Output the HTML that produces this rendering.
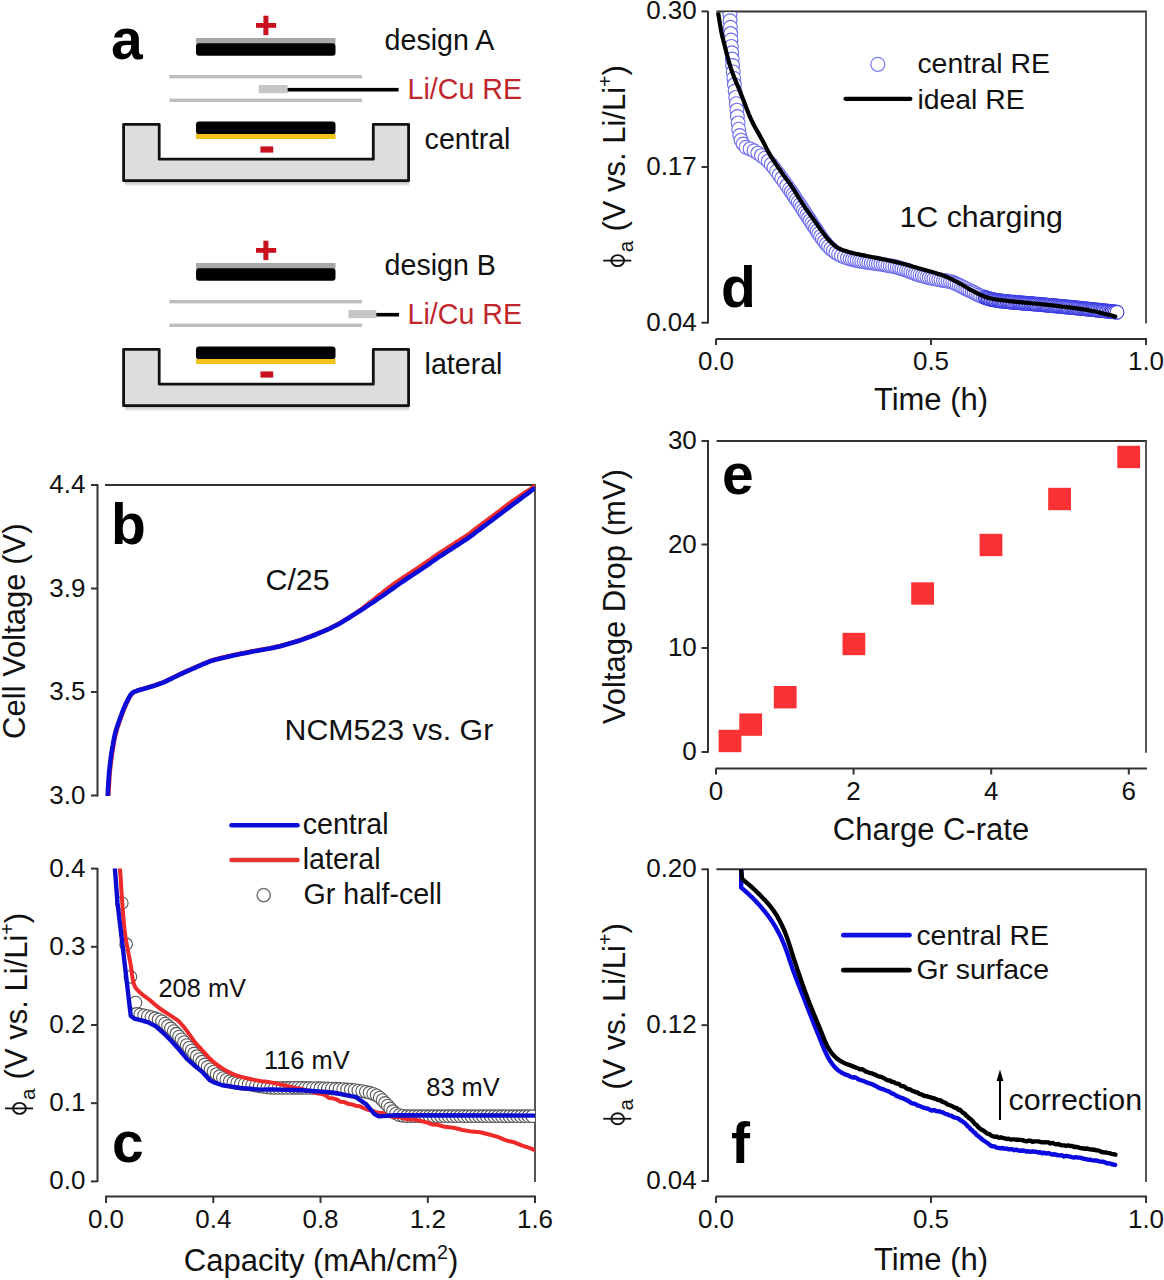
<!DOCTYPE html>
<html><head><meta charset="utf-8"><style>
html,body{margin:0;padding:0;background:#fff;}
svg{display:block;}
text{font-family:"Liberation Sans",sans-serif;}
</style></head><body>
<svg width="1164" height="1280" viewBox="0 0 1164 1280" font-family="Liberation Sans, sans-serif">
<rect width="1164" height="1280" fill="#fff"/>
<defs><linearGradient id="shad" x1="0" y1="0" x2="0" y2="1"><stop offset="0" stop-color="#b8b8b8"/><stop offset="1" stop-color="#ffffff"/></linearGradient></defs>
<text x="111" y="59" font-size="57" text-anchor="start" font-weight="bold" fill="#000" >a</text>
<rect x="256" y="23" width="20.2" height="4.8" fill="#c8101e"/>
<rect x="263.4" y="15.7" width="5" height="19.4" fill="#c8101e"/>
<rect x="196" y="38" width="139.5" height="6" fill="#a8a8a8"/>
<rect x="196" y="43.3" width="139.5" height="12.4" rx="3" fill="#000"/>
<rect x="169.5" y="75" width="192.5" height="3.4" fill="#bdbdbd"/>
<rect x="169.5" y="98.6" width="192.5" height="3.4" fill="#bdbdbd"/>
<rect x="258.8" y="85" width="28.80000000000001" height="8.2" fill="#c6c6c6"/>
<rect x="287.6" y="87.9" width="111.0" height="3.6" fill="#000"/>
<rect x="125" y="181.5" width="284" height="5" fill="url(#shad)"/>
<path d="M123.6,124.3 H159.2 V159.2 H373.3 V124.3 H408.6 V180.7 H123.6 Z" fill="#dddddd" stroke="#111" stroke-width="2.8" stroke-linejoin="round"/>
<rect x="196" y="121.6" width="139.5" height="12.6" rx="3" fill="#000"/>
<rect x="196" y="134" width="139.5" height="5" fill="#f2c21a"/>
<rect x="260.4" y="146.4" width="12.8" height="6.2" fill="#c8101e"/>
<text x="384.6" y="49.5" font-size="28.6" text-anchor="start" font-weight="normal" fill="#111" >design A</text>
<text x="407.6" y="99.4" font-size="28.6" text-anchor="start" font-weight="normal" fill="#c0272d" >Li/Cu RE</text>
<text x="424.6" y="148.5" font-size="28.6" text-anchor="start" font-weight="normal" fill="#111" >central</text>
<rect x="256" y="248" width="20.2" height="4.8" fill="#c8101e"/>
<rect x="263.4" y="240.7" width="5" height="19.4" fill="#c8101e"/>
<rect x="196" y="263" width="139.5" height="6" fill="#a8a8a8"/>
<rect x="196" y="268.3" width="139.5" height="12.4" rx="3" fill="#000"/>
<rect x="169.5" y="300" width="192.5" height="3.4" fill="#bdbdbd"/>
<rect x="169.5" y="323.6" width="192.5" height="3.4" fill="#bdbdbd"/>
<rect x="348.5" y="310" width="27.80000000000001" height="8.2" fill="#c6c6c6"/>
<rect x="376.3" y="312.9" width="22.69999999999999" height="3.6" fill="#000"/>
<rect x="125" y="406.5" width="284" height="5" fill="url(#shad)"/>
<path d="M123.6,349.3 H159.2 V384.2 H373.3 V349.3 H408.6 V405.7 H123.6 Z" fill="#dddddd" stroke="#111" stroke-width="2.8" stroke-linejoin="round"/>
<rect x="196" y="346.6" width="139.5" height="12.6" rx="3" fill="#000"/>
<rect x="196" y="359" width="139.5" height="5" fill="#f2c21a"/>
<rect x="260.4" y="371.4" width="12.8" height="6.2" fill="#c8101e"/>
<text x="384.6" y="274.5" font-size="28.6" text-anchor="start" font-weight="normal" fill="#111" >design B</text>
<text x="407.6" y="324" font-size="28.6" text-anchor="start" font-weight="normal" fill="#c0272d" >Li/Cu RE</text>
<text x="424.6" y="373.5" font-size="28.6" text-anchor="start" font-weight="normal" fill="#111" >lateral</text>
<line x1="97.5" y1="484" x2="97.5" y2="796.5" stroke="#333" stroke-width="2" />
<line x1="91" y1="485" x2="97.5" y2="485" stroke="#333" stroke-width="2" />
<text x="85.5" y="493" font-size="26" text-anchor="end" font-weight="normal" fill="#111" >4.4</text>
<line x1="91" y1="588.5" x2="97.5" y2="588.5" stroke="#333" stroke-width="2" />
<text x="85.5" y="596.5" font-size="26" text-anchor="end" font-weight="normal" fill="#111" >3.9</text>
<line x1="91" y1="692" x2="97.5" y2="692" stroke="#333" stroke-width="2" />
<text x="85.5" y="700" font-size="26" text-anchor="end" font-weight="normal" fill="#111" >3.5</text>
<line x1="91" y1="795.5" x2="97.5" y2="795.5" stroke="#333" stroke-width="2" />
<text x="85.5" y="803.5" font-size="26" text-anchor="end" font-weight="normal" fill="#111" >3.0</text>
<line x1="105" y1="485" x2="536" y2="485" stroke="#333" stroke-width="2" />
<line x1="535" y1="484" x2="535" y2="1182" stroke="#555" stroke-width="2" />
<text x="25" y="631.2" font-size="31" text-anchor="middle" font-weight="normal" fill="#111" transform="rotate(-90 25 631.2)">Cell Voltage (V)</text>
<text x="111" y="544" font-size="57" text-anchor="start" font-weight="bold" fill="#000" >b</text>
<text x="265.5" y="589.7" font-size="30.3" text-anchor="start" font-weight="normal" fill="#111" >C/25</text>
<text x="284.5" y="740" font-size="30.3" text-anchor="start" font-weight="normal" fill="#111" >NCM523 vs. Gr</text>
<clipPath id="clipb"><rect x="98" y="484" width="437" height="312"/></clipPath><g clip-path="url(#clipb)">
<polyline points="108.4,794.7 108.6,792.1 108.7,788.5 109.0,784.2 109.3,779.7 109.6,775.2 109.9,771.2 110.3,767.6 110.7,764.1 111.1,760.7 111.5,757.4 112.0,754.1 112.5,750.9 113.0,747.7 113.6,744.5 114.1,741.4 114.7,738.3 115.3,735.4 116.0,732.6 116.7,730.0 117.4,727.6 118.2,725.2 119.0,723.0 119.8,720.7 120.6,718.4 121.5,716.0 122.4,713.5 123.3,711.0 124.3,708.6 125.3,706.3 126.2,704.2 127.1,702.2 128.1,700.3 129.0,698.5 129.9,696.8 130.8,695.3 131.7,694.1 132.5,693.2 133.1,692.5 133.8,692.1 134.4,691.8 135.3,691.4 136.3,691.0 137.6,690.5 139.1,690.0 140.7,689.5 142.4,689.0 144.1,688.5 145.8,688.0 147.4,687.5 149.1,687.0 150.8,686.5 152.5,686.0 154.2,685.5 155.9,684.9 157.5,684.3 159.1,683.7 160.7,683.1 162.4,682.5 164.2,681.8 166.1,680.9 168.2,679.9 170.4,678.9 172.7,677.7 175.2,676.5 177.8,675.2 180.6,673.9 183.8,672.4 187.3,670.8 191.0,669.2 194.7,667.5 198.2,666.0 201.2,664.7 203.7,663.6 205.7,662.8 207.5,662.0 209.3,661.3 211.3,660.6 213.6,659.9 216.3,659.1 219.3,658.4 222.4,657.6 225.6,656.9 228.9,656.1 232.2,655.4 235.5,654.7 238.9,654.0 242.4,653.3 245.9,652.6 249.3,651.9 252.8,651.2 256.2,650.6 259.7,650.0 263.1,649.4 266.5,648.8 270.0,648.2 273.4,647.5 276.8,646.7 280.3,645.9 283.7,645.0 287.1,644.0 290.6,643.0 294.0,642.0 297.4,640.9 300.9,639.8 304.3,638.6 307.7,637.3 311.2,636.0 314.6,634.7 318.0,633.3 321.5,631.9 325.0,630.4 328.4,628.9 331.9,627.2 335.3,625.5 338.8,623.6 342.2,621.7 345.7,619.6 349.2,617.5 352.6,615.3 355.9,613.1 359.2,610.8 362.4,608.4 365.6,606.0 368.7,603.5 371.8,601.2 374.6,598.9 377.3,596.8 379.9,594.8 382.3,592.9 384.6,591.0 387.0,589.2 389.5,587.3 392.0,585.4 394.6,583.6 397.2,581.8 399.8,580.0 402.4,578.2 405.0,576.5 407.6,574.8 410.2,573.1 412.8,571.4 415.3,569.8 417.9,568.1 420.5,566.4 423.1,564.6 425.6,562.8 428.2,561.0 430.8,559.2 433.3,557.4 435.9,555.6 438.5,553.9 441.1,552.2 443.7,550.5 446.2,548.8 448.8,547.2 451.4,545.5 454.0,543.8 456.5,542.2 459.1,540.6 461.7,538.9 464.2,537.3 466.8,535.5 469.4,533.7 472.0,531.8 474.5,529.8 477.1,527.8 479.7,525.9 482.3,523.9 484.9,522.0 487.5,520.0 490.1,518.1 492.6,516.2 495.2,514.2 497.8,512.3 500.3,510.4 502.7,508.5 505.1,506.7 507.6,504.8 510.3,502.8 513.2,500.7 516.7,498.3 520.7,495.6 524.8,492.9 528.8,490.3 532.1,488.1 534.5,486.5" fill="none" stroke="#ee2a2a" stroke-width="4.4" stroke-linejoin="round" stroke-linecap="round" />
<polyline points="107.7,795.0 107.9,792.4 108.0,788.8 108.3,784.5 108.6,780.0 108.9,775.5 109.2,771.5 109.6,767.9 110.0,764.4 110.4,761.0 110.8,757.7 111.3,754.4 111.8,751.2 112.3,748.0 112.9,744.8 113.4,741.7 114.0,738.6 114.6,735.7 115.3,732.9 116.0,730.3 116.7,727.9 117.5,725.5 118.3,723.3 119.1,721.0 119.9,718.7 120.8,716.3 121.7,713.8 122.6,711.3 123.6,708.9 124.6,706.6 125.5,704.5 126.4,702.5 127.4,700.6 128.3,698.8 129.2,697.1 130.1,695.6 131.0,694.4 131.8,693.5 132.4,692.8 133.0,692.4 133.7,692.1 134.5,691.7 135.6,691.3 137.0,690.8 138.6,690.3 140.4,689.8 142.2,689.3 144.0,688.8 145.8,688.3 147.5,687.8 149.2,687.3 150.8,686.8 152.5,686.3 154.2,685.8 155.9,685.2 157.5,684.6 159.1,684.0 160.7,683.4 162.4,682.8 164.2,682.1 166.1,681.2 168.2,680.2 170.4,679.2 172.7,678.0 175.2,676.8 177.8,675.5 180.6,674.2 183.8,672.7 187.3,671.1 191.0,669.5 194.7,667.8 198.2,666.3 201.2,665.0 203.7,663.9 205.7,663.1 207.5,662.3 209.3,661.6 211.3,660.9 213.6,660.2 216.3,659.4 219.3,658.7 222.4,657.9 225.6,657.2 228.9,656.4 232.2,655.7 235.5,655.0 238.9,654.3 242.4,653.6 245.9,652.9 249.3,652.2 252.8,651.5 256.2,650.9 259.7,650.3 263.1,649.7 266.5,649.1 270.0,648.5 273.4,647.8 276.8,647.0 280.3,646.2 283.7,645.3 287.1,644.3 290.6,643.3 294.0,642.3 297.4,641.2 300.9,640.1 304.3,638.9 307.7,637.6 311.2,636.3 314.6,635.0 318.0,633.6 321.5,632.2 325.0,630.7 328.4,629.2 331.9,627.5 335.3,625.8 338.8,623.9 342.2,621.9 345.7,619.8 349.1,617.7 352.5,615.5 355.9,613.4 359.3,611.3 362.7,609.1 366.0,606.9 369.3,604.7 372.5,602.6 375.5,600.6 378.3,598.7 380.9,596.9 383.5,595.1 385.9,593.3 388.4,591.6 390.9,589.8 393.5,588.0 396.1,586.2 398.6,584.4 401.2,582.5 403.8,580.8 406.4,579.0 409.0,577.3 411.6,575.6 414.2,573.9 416.7,572.3 419.3,570.6 421.9,568.9 424.5,567.1 427.0,565.3 429.6,563.5 432.2,561.7 434.7,559.9 437.3,558.1 439.9,556.4 442.5,554.7 445.1,553.0 447.6,551.3 450.2,549.7 452.8,548.0 455.4,546.3 457.9,544.7 460.5,543.1 463.1,541.4 465.6,539.8 468.2,538.0 470.8,536.2 473.4,534.3 475.9,532.3 478.5,530.3 481.1,528.4 483.7,526.4 486.3,524.5 488.9,522.5 491.5,520.6 494.0,518.7 496.6,516.7 499.2,514.8 501.7,512.9 504.2,511.0 506.7,509.2 509.2,507.3 511.8,505.3 514.6,503.2 517.8,500.8 521.3,498.1 525.0,495.4 528.5,492.8 531.4,490.6 533.5,489.0" fill="none" stroke="#0c0cd8" stroke-width="4.6" stroke-linejoin="round" stroke-linecap="round" />
</g>
<line x1="97.5" y1="868" x2="97.5" y2="1182" stroke="#333" stroke-width="2" />
<line x1="91" y1="868.6" x2="97.5" y2="868.6" stroke="#333" stroke-width="2" />
<text x="85.5" y="876.6" font-size="26" text-anchor="end" font-weight="normal" fill="#111" >0.4</text>
<line x1="91" y1="946.8" x2="97.5" y2="946.8" stroke="#333" stroke-width="2" />
<text x="85.5" y="954.8" font-size="26" text-anchor="end" font-weight="normal" fill="#111" >0.3</text>
<line x1="91" y1="1025" x2="97.5" y2="1025" stroke="#333" stroke-width="2" />
<text x="85.5" y="1033" font-size="26" text-anchor="end" font-weight="normal" fill="#111" >0.2</text>
<line x1="91" y1="1103.2" x2="97.5" y2="1103.2" stroke="#333" stroke-width="2" />
<text x="85.5" y="1111.2" font-size="26" text-anchor="end" font-weight="normal" fill="#111" >0.1</text>
<line x1="91" y1="1181.4" x2="97.5" y2="1181.4" stroke="#333" stroke-width="2" />
<text x="85.5" y="1189.4" font-size="26" text-anchor="end" font-weight="normal" fill="#111" >0.0</text>
<line x1="105" y1="1196.4" x2="536" y2="1196.4" stroke="#333" stroke-width="2" />
<line x1="106" y1="1196.4" x2="106" y2="1203" stroke="#333" stroke-width="2" />
<text x="106" y="1227.9" font-size="26" text-anchor="middle" font-weight="normal" fill="#111" >0.0</text>
<line x1="213.3" y1="1196.4" x2="213.3" y2="1203" stroke="#333" stroke-width="2" />
<text x="213.3" y="1227.9" font-size="26" text-anchor="middle" font-weight="normal" fill="#111" >0.4</text>
<line x1="320.5" y1="1196.4" x2="320.5" y2="1203" stroke="#333" stroke-width="2" />
<text x="320.5" y="1227.9" font-size="26" text-anchor="middle" font-weight="normal" fill="#111" >0.8</text>
<line x1="427.8" y1="1196.4" x2="427.8" y2="1203" stroke="#333" stroke-width="2" />
<text x="427.8" y="1227.9" font-size="26" text-anchor="middle" font-weight="normal" fill="#111" >1.2</text>
<line x1="535" y1="1196.4" x2="535" y2="1203" stroke="#333" stroke-width="2" />
<text x="535" y="1227.9" font-size="26" text-anchor="middle" font-weight="normal" fill="#111" >1.6</text>
<text x="321" y="1270.5" font-size="31" text-anchor="middle" font-weight="normal" fill="#111" >Capacity (mAh/cm<tspan font-size="19.5" dy="-11.6">2</tspan><tspan dy="11.6">)</tspan></text>
<text x="112" y="1162" font-size="57" text-anchor="start" font-weight="bold" fill="#000" >c</text>
<line x1="231.5" y1="825.3" x2="297.5" y2="825.3" stroke="#0c0cdc" stroke-width="4.6" stroke-linecap="round"/>
<line x1="231.5" y1="860" x2="297.5" y2="860" stroke="#e83434" stroke-width="4.6" stroke-linecap="round"/>
<circle cx="263.7" cy="895.2" r="6.6" fill="none" stroke="#777" stroke-width="1.5"/>
<text x="302.7" y="834.2" font-size="28.6" text-anchor="start" font-weight="normal" fill="#111" >central</text>
<text x="302.7" y="869.3" font-size="28.6" text-anchor="start" font-weight="normal" fill="#111" >lateral</text>
<text x="303.6" y="904" font-size="28.6" text-anchor="start" font-weight="normal" fill="#111" >Gr half-cell</text>
<text x="158.5" y="996.6" font-size="25.4" text-anchor="start" font-weight="normal" fill="#111" >208 mV</text>
<text x="264" y="1068.7" font-size="25.4" text-anchor="start" font-weight="normal" fill="#111" >116 mV</text>
<text x="426.3" y="1095.8" font-size="25.4" text-anchor="start" font-weight="normal" fill="#111" >83 mV</text>
<clipPath id="clipc2"><rect x="98" y="868.6" width="437" height="313"/></clipPath>
<clipPath id="clipc"><rect x="98" y="860" width="437" height="330"/></clipPath><g clip-path="url(#clipc)">
<circle cx="121.8" cy="903.0" r="6.3" fill="#fff" stroke="#555" stroke-width="1.1"/>
<circle cx="126.1" cy="944.2" r="6.3" fill="#fff" stroke="#555" stroke-width="1.1"/>
<circle cx="130.4" cy="976.8" r="6.3" fill="#fff" stroke="#555" stroke-width="1.1"/>
<circle cx="135.5" cy="1002.6" r="6.3" fill="#fff" stroke="#555" stroke-width="1.1"/>
<circle cx="136.6" cy="1013.9" r="6.3" fill="#fff" stroke="#555" stroke-width="1.1"/>
<circle cx="140.3" cy="1014.6" r="6.3" fill="#fff" stroke="#555" stroke-width="1.1"/>
<circle cx="144.1" cy="1015.3" r="6.3" fill="#fff" stroke="#555" stroke-width="1.1"/>
<circle cx="147.8" cy="1016.1" r="6.3" fill="#fff" stroke="#555" stroke-width="1.1"/>
<circle cx="151.4" cy="1017.1" r="6.3" fill="#fff" stroke="#555" stroke-width="1.1"/>
<circle cx="155.1" cy="1018.2" r="6.3" fill="#fff" stroke="#555" stroke-width="1.1"/>
<circle cx="158.6" cy="1019.6" r="6.3" fill="#fff" stroke="#555" stroke-width="1.1"/>
<circle cx="162.0" cy="1021.3" r="6.3" fill="#fff" stroke="#555" stroke-width="1.1"/>
<circle cx="165.1" cy="1023.5" r="6.3" fill="#fff" stroke="#555" stroke-width="1.1"/>
<circle cx="168.0" cy="1025.9" r="6.3" fill="#fff" stroke="#555" stroke-width="1.1"/>
<circle cx="170.9" cy="1028.4" r="6.3" fill="#fff" stroke="#555" stroke-width="1.1"/>
<circle cx="173.7" cy="1031.0" r="6.3" fill="#fff" stroke="#555" stroke-width="1.1"/>
<circle cx="176.4" cy="1033.7" r="6.3" fill="#fff" stroke="#555" stroke-width="1.1"/>
<circle cx="179.0" cy="1036.5" r="6.3" fill="#fff" stroke="#555" stroke-width="1.1"/>
<circle cx="181.5" cy="1039.3" r="6.3" fill="#fff" stroke="#555" stroke-width="1.1"/>
<circle cx="184.0" cy="1042.1" r="6.3" fill="#fff" stroke="#555" stroke-width="1.1"/>
<circle cx="186.6" cy="1045.0" r="6.3" fill="#fff" stroke="#555" stroke-width="1.1"/>
<circle cx="189.1" cy="1047.8" r="6.3" fill="#fff" stroke="#555" stroke-width="1.1"/>
<circle cx="191.7" cy="1050.6" r="6.3" fill="#fff" stroke="#555" stroke-width="1.1"/>
<circle cx="194.2" cy="1053.4" r="6.3" fill="#fff" stroke="#555" stroke-width="1.1"/>
<circle cx="196.8" cy="1056.2" r="6.3" fill="#fff" stroke="#555" stroke-width="1.1"/>
<circle cx="199.4" cy="1059.0" r="6.3" fill="#fff" stroke="#555" stroke-width="1.1"/>
<circle cx="202.1" cy="1061.7" r="6.3" fill="#fff" stroke="#555" stroke-width="1.1"/>
<circle cx="204.8" cy="1064.4" r="6.3" fill="#fff" stroke="#555" stroke-width="1.1"/>
<circle cx="207.6" cy="1066.9" r="6.3" fill="#fff" stroke="#555" stroke-width="1.1"/>
<circle cx="210.5" cy="1069.3" r="6.3" fill="#fff" stroke="#555" stroke-width="1.1"/>
<circle cx="213.5" cy="1071.6" r="6.3" fill="#fff" stroke="#555" stroke-width="1.1"/>
<circle cx="216.5" cy="1074.0" r="6.3" fill="#fff" stroke="#555" stroke-width="1.1"/>
<circle cx="219.6" cy="1076.2" r="6.3" fill="#fff" stroke="#555" stroke-width="1.1"/>
<circle cx="222.9" cy="1078.1" r="6.3" fill="#fff" stroke="#555" stroke-width="1.1"/>
<circle cx="226.3" cy="1079.8" r="6.3" fill="#fff" stroke="#555" stroke-width="1.1"/>
<circle cx="229.8" cy="1081.2" r="6.3" fill="#fff" stroke="#555" stroke-width="1.1"/>
<circle cx="233.4" cy="1082.4" r="6.3" fill="#fff" stroke="#555" stroke-width="1.1"/>
<circle cx="237.1" cy="1083.1" r="6.3" fill="#fff" stroke="#555" stroke-width="1.1"/>
<circle cx="240.9" cy="1083.7" r="6.3" fill="#fff" stroke="#555" stroke-width="1.1"/>
<circle cx="244.7" cy="1084.1" r="6.3" fill="#fff" stroke="#555" stroke-width="1.1"/>
<circle cx="248.5" cy="1084.5" r="6.3" fill="#fff" stroke="#555" stroke-width="1.1"/>
<circle cx="252.2" cy="1085.0" r="6.3" fill="#fff" stroke="#555" stroke-width="1.1"/>
<circle cx="256.0" cy="1085.6" r="6.3" fill="#fff" stroke="#555" stroke-width="1.1"/>
<circle cx="259.7" cy="1086.3" r="6.3" fill="#fff" stroke="#555" stroke-width="1.1"/>
<circle cx="263.5" cy="1087.0" r="6.3" fill="#fff" stroke="#555" stroke-width="1.1"/>
<circle cx="267.2" cy="1087.5" r="6.3" fill="#fff" stroke="#555" stroke-width="1.1"/>
<circle cx="271.0" cy="1087.8" r="6.3" fill="#fff" stroke="#555" stroke-width="1.1"/>
<circle cx="274.8" cy="1087.9" r="6.3" fill="#fff" stroke="#555" stroke-width="1.1"/>
<circle cx="278.6" cy="1088.0" r="6.3" fill="#fff" stroke="#555" stroke-width="1.1"/>
<circle cx="282.4" cy="1087.9" r="6.3" fill="#fff" stroke="#555" stroke-width="1.1"/>
<circle cx="286.2" cy="1087.9" r="6.3" fill="#fff" stroke="#555" stroke-width="1.1"/>
<circle cx="290.0" cy="1087.9" r="6.3" fill="#fff" stroke="#555" stroke-width="1.1"/>
<circle cx="293.8" cy="1087.8" r="6.3" fill="#fff" stroke="#555" stroke-width="1.1"/>
<circle cx="297.6" cy="1087.8" r="6.3" fill="#fff" stroke="#555" stroke-width="1.1"/>
<circle cx="301.4" cy="1087.8" r="6.3" fill="#fff" stroke="#555" stroke-width="1.1"/>
<circle cx="305.2" cy="1087.9" r="6.3" fill="#fff" stroke="#555" stroke-width="1.1"/>
<circle cx="309.0" cy="1087.9" r="6.3" fill="#fff" stroke="#555" stroke-width="1.1"/>
<circle cx="312.8" cy="1088.0" r="6.3" fill="#fff" stroke="#555" stroke-width="1.1"/>
<circle cx="316.6" cy="1088.1" r="6.3" fill="#fff" stroke="#555" stroke-width="1.1"/>
<circle cx="320.4" cy="1088.2" r="6.3" fill="#fff" stroke="#555" stroke-width="1.1"/>
<circle cx="324.2" cy="1088.3" r="6.3" fill="#fff" stroke="#555" stroke-width="1.1"/>
<circle cx="328.0" cy="1088.4" r="6.3" fill="#fff" stroke="#555" stroke-width="1.1"/>
<circle cx="331.8" cy="1088.6" r="6.3" fill="#fff" stroke="#555" stroke-width="1.1"/>
<circle cx="335.6" cy="1088.7" r="6.3" fill="#fff" stroke="#555" stroke-width="1.1"/>
<circle cx="339.4" cy="1088.9" r="6.3" fill="#fff" stroke="#555" stroke-width="1.1"/>
<circle cx="343.2" cy="1089.1" r="6.3" fill="#fff" stroke="#555" stroke-width="1.1"/>
<circle cx="347.0" cy="1089.4" r="6.3" fill="#fff" stroke="#555" stroke-width="1.1"/>
<circle cx="350.8" cy="1089.7" r="6.3" fill="#fff" stroke="#555" stroke-width="1.1"/>
<circle cx="354.5" cy="1090.1" r="6.3" fill="#fff" stroke="#555" stroke-width="1.1"/>
<circle cx="358.3" cy="1090.5" r="6.3" fill="#fff" stroke="#555" stroke-width="1.1"/>
<circle cx="362.1" cy="1091.1" r="6.3" fill="#fff" stroke="#555" stroke-width="1.1"/>
<circle cx="365.8" cy="1091.8" r="6.3" fill="#fff" stroke="#555" stroke-width="1.1"/>
<circle cx="369.5" cy="1092.7" r="6.3" fill="#fff" stroke="#555" stroke-width="1.1"/>
<circle cx="373.1" cy="1093.8" r="6.3" fill="#fff" stroke="#555" stroke-width="1.1"/>
<circle cx="376.6" cy="1095.3" r="6.3" fill="#fff" stroke="#555" stroke-width="1.1"/>
<circle cx="379.7" cy="1097.5" r="6.3" fill="#fff" stroke="#555" stroke-width="1.1"/>
<circle cx="382.5" cy="1100.1" r="6.3" fill="#fff" stroke="#555" stroke-width="1.1"/>
<circle cx="385.1" cy="1102.9" r="6.3" fill="#fff" stroke="#555" stroke-width="1.1"/>
<circle cx="387.7" cy="1105.6" r="6.3" fill="#fff" stroke="#555" stroke-width="1.1"/>
<circle cx="390.2" cy="1108.4" r="6.3" fill="#fff" stroke="#555" stroke-width="1.1"/>
<circle cx="392.9" cy="1111.2" r="6.3" fill="#fff" stroke="#555" stroke-width="1.1"/>
<circle cx="395.9" cy="1113.5" r="6.3" fill="#fff" stroke="#555" stroke-width="1.1"/>
<circle cx="399.3" cy="1115.1" r="6.3" fill="#fff" stroke="#555" stroke-width="1.1"/>
<circle cx="403.0" cy="1115.8" r="6.3" fill="#fff" stroke="#555" stroke-width="1.1"/>
<circle cx="406.8" cy="1116.2" r="6.3" fill="#fff" stroke="#555" stroke-width="1.1"/>
<circle cx="410.6" cy="1116.2" r="6.3" fill="#fff" stroke="#555" stroke-width="1.1"/>
<circle cx="414.4" cy="1116.2" r="6.3" fill="#fff" stroke="#555" stroke-width="1.1"/>
<circle cx="418.2" cy="1116.2" r="6.3" fill="#fff" stroke="#555" stroke-width="1.1"/>
<circle cx="422.0" cy="1116.2" r="6.3" fill="#fff" stroke="#555" stroke-width="1.1"/>
<circle cx="425.8" cy="1116.2" r="6.3" fill="#fff" stroke="#555" stroke-width="1.1"/>
<circle cx="429.6" cy="1116.2" r="6.3" fill="#fff" stroke="#555" stroke-width="1.1"/>
<circle cx="433.4" cy="1116.2" r="6.3" fill="#fff" stroke="#555" stroke-width="1.1"/>
<circle cx="437.2" cy="1116.2" r="6.3" fill="#fff" stroke="#555" stroke-width="1.1"/>
<circle cx="441.0" cy="1116.2" r="6.3" fill="#fff" stroke="#555" stroke-width="1.1"/>
<circle cx="444.8" cy="1116.2" r="6.3" fill="#fff" stroke="#555" stroke-width="1.1"/>
<circle cx="448.6" cy="1116.2" r="6.3" fill="#fff" stroke="#555" stroke-width="1.1"/>
<circle cx="452.4" cy="1116.2" r="6.3" fill="#fff" stroke="#555" stroke-width="1.1"/>
<circle cx="456.2" cy="1116.2" r="6.3" fill="#fff" stroke="#555" stroke-width="1.1"/>
<circle cx="460.0" cy="1116.2" r="6.3" fill="#fff" stroke="#555" stroke-width="1.1"/>
<circle cx="463.8" cy="1116.2" r="6.3" fill="#fff" stroke="#555" stroke-width="1.1"/>
<circle cx="467.6" cy="1116.2" r="6.3" fill="#fff" stroke="#555" stroke-width="1.1"/>
<circle cx="471.4" cy="1116.2" r="6.3" fill="#fff" stroke="#555" stroke-width="1.1"/>
<circle cx="475.2" cy="1116.2" r="6.3" fill="#fff" stroke="#555" stroke-width="1.1"/>
<circle cx="479.0" cy="1116.2" r="6.3" fill="#fff" stroke="#555" stroke-width="1.1"/>
<circle cx="482.8" cy="1116.2" r="6.3" fill="#fff" stroke="#555" stroke-width="1.1"/>
<circle cx="486.6" cy="1116.2" r="6.3" fill="#fff" stroke="#555" stroke-width="1.1"/>
<circle cx="490.4" cy="1116.2" r="6.3" fill="#fff" stroke="#555" stroke-width="1.1"/>
<circle cx="494.2" cy="1116.2" r="6.3" fill="#fff" stroke="#555" stroke-width="1.1"/>
<circle cx="498.0" cy="1116.2" r="6.3" fill="#fff" stroke="#555" stroke-width="1.1"/>
<circle cx="501.8" cy="1116.2" r="6.3" fill="#fff" stroke="#555" stroke-width="1.1"/>
<circle cx="505.6" cy="1116.2" r="6.3" fill="#fff" stroke="#555" stroke-width="1.1"/>
<circle cx="509.4" cy="1116.2" r="6.3" fill="#fff" stroke="#555" stroke-width="1.1"/>
<circle cx="513.2" cy="1116.2" r="6.3" fill="#fff" stroke="#555" stroke-width="1.1"/>
<circle cx="517.0" cy="1116.2" r="6.3" fill="#fff" stroke="#555" stroke-width="1.1"/>
<circle cx="520.8" cy="1116.2" r="6.3" fill="#fff" stroke="#555" stroke-width="1.1"/>
<circle cx="524.6" cy="1116.2" r="6.3" fill="#fff" stroke="#555" stroke-width="1.1"/>
<circle cx="528.4" cy="1116.2" r="6.3" fill="#fff" stroke="#555" stroke-width="1.1"/>
<circle cx="532.2" cy="1116.2" r="6.3" fill="#fff" stroke="#555" stroke-width="1.1"/>
</g>
<g clip-path="url(#clipc2)">
<polyline points="120.0,868.6 120.8,880.0 121.8,896.5 123.1,914.1 124.4,928.7 125.8,939.4 127.5,948.3 129.0,956.0 130.4,963.0 131.4,969.4 132.1,975.0 132.8,979.7 133.8,983.7 135.0,986.7 136.4,988.8 138.0,990.5 139.8,992.3 142.0,994.3 144.5,996.2 147.1,998.0 149.7,1000.0 152.2,1002.1 154.6,1004.2 157.2,1006.4 159.8,1008.5 162.7,1010.5 165.8,1012.5 168.7,1014.4 171.4,1016.2 173.6,1017.6 175.5,1018.9 177.3,1020.1 179.1,1021.7 181.0,1023.7 183.0,1026.0 185.0,1028.4 186.9,1030.9 188.8,1033.6 190.8,1036.4 192.7,1039.2 194.6,1041.8 196.5,1044.1 198.4,1046.2 200.4,1048.2 202.3,1050.3 204.2,1052.5 206.2,1054.6 208.1,1056.8 210.1,1058.8 212.1,1060.7 214.2,1062.5 216.4,1064.2 218.6,1065.8 220.9,1067.4 223.2,1068.9 225.7,1070.4 228.3,1071.8 231.0,1073.1 233.7,1074.3 236.7,1075.5 240.3,1076.6 244.9,1077.8 250.2,1079.0 255.5,1080.1 260.0,1081.0 262.9,1081.4 264.7,1081.5 267.0,1081.7 270.9,1082.4 277.6,1083.8 286.1,1085.8 294.8,1087.7 301.9,1089.0 306.8,1090.6 310.6,1091.2 313.8,1092.4 317.3,1093.4 321.2,1093.8 325.1,1095.1 328.9,1097.9 332.8,1098.3 336.7,1099.5 340.5,1101.8 344.3,1102.1 348.2,1103.8 352.1,1104.4 355.9,1105.8 359.8,1106.2 363.7,1108.1 367.6,1109.7 371.5,1110.3 375.3,1111.8 379.2,1112.9 382.8,1113.1 386.3,1115.4 390.0,1116.3 394.6,1116.9 400.4,1117.3 407.2,1119.3 414.0,1119.4 420.0,1120.7 424.5,1121.9 428.1,1122.8 432.0,1124.4 437.3,1124.8 444.7,1126.8 453.4,1127.7 462.7,1130.0 471.7,1131.6 480.4,1132.3 489.2,1134.5 497.8,1136.9 506.0,1140.4 514.2,1142.3 522.3,1145.6 529.4,1147.8 534.4,1150.0" fill="none" stroke="#ee2a2a" stroke-width="4" stroke-linejoin="round" stroke-linecap="round" />
<polyline points="114.9,868.6 117.5,903.0 122.6,946.0 127.0,983.7 128.9,1000.0 130.8,1016.0 134.3,1018.6 140.5,1020.1 148.2,1022.4 155.9,1026.3 163.7,1033.3 171.4,1041.0 179.1,1049.5 186.9,1058.8 194.6,1065.7 202.3,1071.9 210.1,1080.4 214.0,1082.4 222.2,1085.3 240.3,1088.0 260.0,1089.6 270.9,1089.4 301.9,1090.2 332.8,1092.5 356.0,1097.1 366.8,1104.8 374.5,1114.1 379.2,1116.4 394.6,1115.2 535.0,1115.6" fill="none" stroke="#0c0cd0" stroke-width="4.4" stroke-linejoin="round" stroke-linecap="round" />
</g>
<line x1="708" y1="11" x2="708" y2="323.5" stroke="#333" stroke-width="2" />
<line x1="701.5" y1="11.4" x2="708" y2="11.4" stroke="#333" stroke-width="2" />
<text x="696.8" y="19.4" font-size="26" text-anchor="end" font-weight="normal" fill="#111" >0.30</text>
<line x1="701.5" y1="167" x2="708" y2="167" stroke="#333" stroke-width="2" />
<text x="696.8" y="175" font-size="26" text-anchor="end" font-weight="normal" fill="#111" >0.17</text>
<line x1="701.5" y1="322.7" x2="708" y2="322.7" stroke="#333" stroke-width="2" />
<text x="696.8" y="330.7" font-size="26" text-anchor="end" font-weight="normal" fill="#111" >0.04</text>
<line x1="716.5" y1="11.4" x2="1147" y2="11.4" stroke="#333" stroke-width="2" />
<line x1="1146" y1="11.4" x2="1146" y2="323.5" stroke="#555" stroke-width="2" />
<line x1="715.8" y1="339" x2="1147" y2="339" stroke="#333" stroke-width="2" />
<line x1="716" y1="339" x2="716" y2="345" stroke="#333" stroke-width="2" />
<text x="716" y="370" font-size="26" text-anchor="middle" font-weight="normal" fill="#111" >0.0</text>
<line x1="931" y1="339" x2="931" y2="345" stroke="#333" stroke-width="2" />
<text x="931" y="370" font-size="26" text-anchor="middle" font-weight="normal" fill="#111" >0.5</text>
<line x1="1146" y1="339" x2="1146" y2="345" stroke="#333" stroke-width="2" />
<text x="1146" y="370" font-size="26" text-anchor="middle" font-weight="normal" fill="#111" >1.0</text>
<text x="931" y="410" font-size="31" text-anchor="middle" font-weight="normal" fill="#111" >Time (h)</text>
<text x="721" y="307" font-size="57" text-anchor="start" font-weight="bold" fill="#000" >d</text>
<text x="899.5" y="227" font-size="30.3" text-anchor="start" font-weight="normal" fill="#111" >1C charging</text>
<circle cx="877.8" cy="64.3" r="7" fill="none" stroke="#7b7bef" stroke-width="1.3"/>
<text x="917.4" y="73.4" font-size="28.4" text-anchor="start" font-weight="normal" fill="#111" >central RE</text>
<line x1="845.5" y1="98.8" x2="910.4" y2="98.8" stroke="#000" stroke-width="4.2" stroke-linecap="round"/>
<text x="917.4" y="108.5" font-size="28.4" text-anchor="start" font-weight="normal" fill="#111" >ideal RE</text>
<g transform="translate(625,260.6) rotate(-90)" fill="#111">
<ellipse cx="0" cy="-7.3" rx="5.5" ry="6.4" fill="none" stroke="#111" stroke-width="1.9"/>
<line x1="0" y1="-21.8" x2="0" y2="6.3" stroke="#111" stroke-width="1.8"/>
<text x="8.3" y="7.8" font-size="20.5">a</text>
<text x="29" y="0" font-size="31">(V vs. Li/Li<tspan font-size="19.6" dy="-13">+</tspan><tspan dy="13">)</tspan></text>
</g>
<clipPath id="clipd"><rect x="709" y="12.4" width="436" height="330"/></clipPath><g clip-path="url(#clipd)" fill="#fff" stroke="#6e6eee" stroke-width="1.15">
<circle cx="729.6" cy="8.0" r="6.9"/>
<circle cx="729.9" cy="14.4" r="6.9"/>
<circle cx="730.1" cy="20.8" r="6.9"/>
<circle cx="730.4" cy="27.2" r="6.9"/>
<circle cx="730.7" cy="33.6" r="6.9"/>
<circle cx="731.0" cy="40.0" r="6.9"/>
<circle cx="731.4" cy="46.4" r="6.9"/>
<circle cx="731.8" cy="52.7" r="6.9"/>
<circle cx="732.2" cy="59.1" r="6.9"/>
<circle cx="732.6" cy="65.5" r="6.9"/>
<circle cx="733.2" cy="71.9" r="6.9"/>
<circle cx="733.8" cy="78.3" r="6.9"/>
<circle cx="734.4" cy="84.6" r="6.9"/>
<circle cx="735.1" cy="91.0" r="6.9"/>
<circle cx="735.7" cy="97.4" r="6.9"/>
<circle cx="736.3" cy="103.7" r="6.9"/>
<circle cx="736.9" cy="110.1" r="6.9"/>
<circle cx="737.4" cy="116.5" r="6.9"/>
<circle cx="738.1" cy="122.9" r="6.9"/>
<circle cx="738.7" cy="129.2" r="6.9"/>
<circle cx="739.7" cy="135.5" r="6.9"/>
<circle cx="741.1" cy="140.1" r="6.9"/>
<circle cx="743.1" cy="144.0" r="6.9"/>
<circle cx="746.0" cy="147.3" r="6.9"/>
<circle cx="750.1" cy="148.9" r="6.9"/>
<circle cx="754.0" cy="150.8" r="6.9"/>
<circle cx="757.8" cy="153.1" r="6.9"/>
<circle cx="761.4" cy="155.6" r="6.9"/>
<circle cx="765.0" cy="158.2" r="6.9"/>
<circle cx="768.2" cy="161.1" r="6.9"/>
<circle cx="771.2" cy="164.4" r="6.9"/>
<circle cx="773.9" cy="167.8" r="6.9"/>
<circle cx="776.6" cy="171.3" r="6.9"/>
<circle cx="779.2" cy="174.9" r="6.9"/>
<circle cx="781.7" cy="178.4" r="6.9"/>
<circle cx="784.3" cy="182.0" r="6.9"/>
<circle cx="786.8" cy="185.6" r="6.9"/>
<circle cx="789.4" cy="189.2" r="6.9"/>
<circle cx="791.2" cy="191.9" r="6.9"/>
<circle cx="793.0" cy="194.5" r="6.9"/>
<circle cx="794.6" cy="197.0" r="6.9"/>
<circle cx="796.4" cy="199.7" r="6.9"/>
<circle cx="798.2" cy="202.3" r="6.9"/>
<circle cx="799.9" cy="204.8" r="6.9"/>
<circle cx="801.6" cy="207.5" r="6.9"/>
<circle cx="803.4" cy="210.2" r="6.9"/>
<circle cx="805.0" cy="212.7" r="6.9"/>
<circle cx="806.7" cy="215.4" r="6.9"/>
<circle cx="808.5" cy="218.1" r="6.9"/>
<circle cx="810.1" cy="220.6" r="6.9"/>
<circle cx="811.8" cy="223.3" r="6.9"/>
<circle cx="813.6" cy="225.9" r="6.9"/>
<circle cx="815.4" cy="228.6" r="6.9"/>
<circle cx="817.1" cy="231.1" r="6.9"/>
<circle cx="818.8" cy="233.7" r="6.9"/>
<circle cx="820.6" cy="236.4" r="6.9"/>
<circle cx="822.4" cy="239.0" r="6.9"/>
<circle cx="824.3" cy="241.6" r="6.9"/>
<circle cx="826.3" cy="244.1" r="6.9"/>
<circle cx="828.5" cy="246.5" r="6.9"/>
<circle cx="830.8" cy="248.7" r="6.9"/>
<circle cx="833.3" cy="250.7" r="6.9"/>
<circle cx="835.9" cy="252.6" r="6.9"/>
<circle cx="838.6" cy="254.2" r="6.9"/>
<circle cx="841.4" cy="255.7" r="6.9"/>
<circle cx="844.4" cy="257.0" r="6.9"/>
<circle cx="847.4" cy="258.0" r="6.9"/>
<circle cx="850.1" cy="258.8" r="6.9"/>
<circle cx="852.4" cy="259.4" r="6.9"/>
<circle cx="854.8" cy="259.9" r="6.9"/>
<circle cx="857.1" cy="260.4" r="6.9"/>
<circle cx="859.5" cy="260.9" r="6.9"/>
<circle cx="861.8" cy="261.3" r="6.9"/>
<circle cx="864.2" cy="261.8" r="6.9"/>
<circle cx="866.6" cy="262.1" r="6.9"/>
<circle cx="868.9" cy="262.4" r="6.9"/>
<circle cx="871.3" cy="262.7" r="6.9"/>
<circle cx="873.7" cy="263.1" r="6.9"/>
<circle cx="876.1" cy="263.4" r="6.9"/>
<circle cx="878.4" cy="263.8" r="6.9"/>
<circle cx="880.8" cy="264.1" r="6.9"/>
<circle cx="883.2" cy="264.5" r="6.9"/>
<circle cx="885.5" cy="264.9" r="6.9"/>
<circle cx="887.9" cy="265.4" r="6.9"/>
<circle cx="890.3" cy="265.8" r="6.9"/>
<circle cx="892.6" cy="266.2" r="6.9"/>
<circle cx="895.0" cy="266.8" r="6.9"/>
<circle cx="897.3" cy="267.3" r="6.9"/>
<circle cx="899.6" cy="267.9" r="6.9"/>
<circle cx="901.9" cy="268.6" r="6.9"/>
<circle cx="904.2" cy="269.4" r="6.9"/>
<circle cx="906.5" cy="270.2" r="6.9"/>
<circle cx="908.7" cy="271.0" r="6.9"/>
<circle cx="910.9" cy="271.9" r="6.9"/>
<circle cx="913.2" cy="272.8" r="6.9"/>
<circle cx="915.4" cy="273.6" r="6.9"/>
<circle cx="917.7" cy="274.4" r="6.9"/>
<circle cx="920.0" cy="275.2" r="6.9"/>
<circle cx="922.3" cy="275.8" r="6.9"/>
<circle cx="924.6" cy="276.5" r="6.9"/>
<circle cx="926.9" cy="277.0" r="6.9"/>
<circle cx="929.3" cy="277.6" r="6.9"/>
<circle cx="931.6" cy="278.1" r="6.9"/>
<circle cx="933.9" cy="278.6" r="6.9"/>
<circle cx="936.3" cy="279.0" r="6.9"/>
<circle cx="938.7" cy="279.5" r="6.9"/>
<circle cx="941.0" cy="280.0" r="6.9"/>
<circle cx="943.4" cy="280.4" r="6.9"/>
<circle cx="945.7" cy="280.8" r="6.9"/>
<circle cx="948.1" cy="281.1" r="6.9"/>
<circle cx="950.5" cy="281.6" r="6.9"/>
<circle cx="952.8" cy="282.3" r="6.9"/>
<circle cx="955.0" cy="283.2" r="6.9"/>
<circle cx="957.1" cy="284.2" r="6.9"/>
<circle cx="959.3" cy="285.3" r="6.9"/>
<circle cx="961.4" cy="286.4" r="6.9"/>
<circle cx="963.6" cy="287.5" r="6.9"/>
<circle cx="965.7" cy="288.6" r="6.9"/>
<circle cx="967.9" cy="289.6" r="6.9"/>
<circle cx="970.0" cy="290.7" r="6.9"/>
<circle cx="972.2" cy="291.7" r="6.9"/>
<circle cx="974.3" cy="292.8" r="6.9"/>
<circle cx="976.5" cy="293.9" r="6.9"/>
<circle cx="978.6" cy="295.0" r="6.9"/>
<circle cx="980.8" cy="295.9" r="6.9"/>
<circle cx="983.1" cy="296.7" r="6.9"/>
<circle cx="985.2" cy="297.4" r="6.9" stroke="#3a3ae2"/>
<circle cx="986.7" cy="297.9" r="6.9" stroke="#3a3ae2"/>
<circle cx="988.2" cy="298.4" r="6.9" stroke="#3a3ae2"/>
<circle cx="989.7" cy="298.9" r="6.9" stroke="#3a3ae2"/>
<circle cx="991.3" cy="299.3" r="6.9" stroke="#3a3ae2"/>
<circle cx="992.8" cy="299.6" r="6.9" stroke="#3a3ae2"/>
<circle cx="994.4" cy="299.9" r="6.9" stroke="#3a3ae2"/>
<circle cx="996.0" cy="300.2" r="6.9" stroke="#3a3ae2"/>
<circle cx="997.6" cy="300.4" r="6.9" stroke="#3a3ae2"/>
<circle cx="999.2" cy="300.7" r="6.9" stroke="#3a3ae2"/>
<circle cx="1000.7" cy="300.9" r="6.9" stroke="#3a3ae2"/>
<circle cx="1002.3" cy="301.1" r="6.9" stroke="#3a3ae2"/>
<circle cx="1003.9" cy="301.3" r="6.9" stroke="#3a3ae2"/>
<circle cx="1005.5" cy="301.4" r="6.9" stroke="#3a3ae2"/>
<circle cx="1007.1" cy="301.6" r="6.9" stroke="#3a3ae2"/>
<circle cx="1008.7" cy="301.8" r="6.9" stroke="#3a3ae2"/>
<circle cx="1010.3" cy="301.9" r="6.9" stroke="#3a3ae2"/>
<circle cx="1011.9" cy="302.1" r="6.9" stroke="#3a3ae2"/>
<circle cx="1013.5" cy="302.2" r="6.9" stroke="#3a3ae2"/>
<circle cx="1015.1" cy="302.3" r="6.9" stroke="#3a3ae2"/>
<circle cx="1016.7" cy="302.5" r="6.9" stroke="#3a3ae2"/>
<circle cx="1018.3" cy="302.6" r="6.9" stroke="#3a3ae2"/>
<circle cx="1019.8" cy="302.8" r="6.9" stroke="#3a3ae2"/>
<circle cx="1021.4" cy="302.9" r="6.9" stroke="#3a3ae2"/>
<circle cx="1023.0" cy="303.0" r="6.9" stroke="#3a3ae2"/>
<circle cx="1024.6" cy="303.1" r="6.9" stroke="#3a3ae2"/>
<circle cx="1026.2" cy="303.3" r="6.9" stroke="#3a3ae2"/>
<circle cx="1027.8" cy="303.4" r="6.9" stroke="#3a3ae2"/>
<circle cx="1029.4" cy="303.5" r="6.9" stroke="#3a3ae2"/>
<circle cx="1031.0" cy="303.7" r="6.9" stroke="#3a3ae2"/>
<circle cx="1032.6" cy="303.8" r="6.9" stroke="#3a3ae2"/>
<circle cx="1034.2" cy="303.9" r="6.9" stroke="#3a3ae2"/>
<circle cx="1035.8" cy="304.1" r="6.9" stroke="#3a3ae2"/>
<circle cx="1037.4" cy="304.2" r="6.9" stroke="#3a3ae2"/>
<circle cx="1039.0" cy="304.3" r="6.9" stroke="#3a3ae2"/>
<circle cx="1040.6" cy="304.5" r="6.9" stroke="#3a3ae2"/>
<circle cx="1042.2" cy="304.6" r="6.9" stroke="#3a3ae2"/>
<circle cx="1043.8" cy="304.8" r="6.9" stroke="#3a3ae2"/>
<circle cx="1045.4" cy="304.9" r="6.9" stroke="#3a3ae2"/>
<circle cx="1046.9" cy="305.1" r="6.9" stroke="#3a3ae2"/>
<circle cx="1048.5" cy="305.2" r="6.9" stroke="#3a3ae2"/>
<circle cx="1050.1" cy="305.4" r="6.9" stroke="#3a3ae2"/>
<circle cx="1051.7" cy="305.5" r="6.9" stroke="#3a3ae2"/>
<circle cx="1053.3" cy="305.7" r="6.9" stroke="#3a3ae2"/>
<circle cx="1054.9" cy="305.8" r="6.9" stroke="#3a3ae2"/>
<circle cx="1056.5" cy="306.0" r="6.9" stroke="#3a3ae2"/>
<circle cx="1058.1" cy="306.1" r="6.9" stroke="#3a3ae2"/>
<circle cx="1059.7" cy="306.3" r="6.9" stroke="#3a3ae2"/>
<circle cx="1061.3" cy="306.4" r="6.9" stroke="#3a3ae2"/>
<circle cx="1062.9" cy="306.6" r="6.9" stroke="#3a3ae2"/>
<circle cx="1064.5" cy="306.7" r="6.9" stroke="#3a3ae2"/>
<circle cx="1066.1" cy="306.9" r="6.9" stroke="#3a3ae2"/>
<circle cx="1067.7" cy="307.0" r="6.9" stroke="#3a3ae2"/>
<circle cx="1069.2" cy="307.2" r="6.9" stroke="#3a3ae2"/>
<circle cx="1070.8" cy="307.3" r="6.9" stroke="#3a3ae2"/>
<circle cx="1072.4" cy="307.5" r="6.9" stroke="#3a3ae2"/>
<circle cx="1074.0" cy="307.7" r="6.9" stroke="#3a3ae2"/>
<circle cx="1075.6" cy="307.8" r="6.9" stroke="#3a3ae2"/>
<circle cx="1077.2" cy="308.0" r="6.9" stroke="#3a3ae2"/>
<circle cx="1078.8" cy="308.1" r="6.9" stroke="#3a3ae2"/>
<circle cx="1080.4" cy="308.3" r="6.9" stroke="#3a3ae2"/>
<circle cx="1082.0" cy="308.5" r="6.9" stroke="#3a3ae2"/>
<circle cx="1083.6" cy="308.6" r="6.9" stroke="#3a3ae2"/>
<circle cx="1085.2" cy="308.8" r="6.9" stroke="#3a3ae2"/>
<circle cx="1086.8" cy="308.9" r="6.9" stroke="#3a3ae2"/>
<circle cx="1088.4" cy="309.1" r="6.9" stroke="#3a3ae2"/>
<circle cx="1089.9" cy="309.3" r="6.9" stroke="#3a3ae2"/>
<circle cx="1091.5" cy="309.4" r="6.9" stroke="#3a3ae2"/>
<circle cx="1093.1" cy="309.6" r="6.9" stroke="#3a3ae2"/>
<circle cx="1094.7" cy="309.8" r="6.9" stroke="#3a3ae2"/>
<circle cx="1096.3" cy="309.9" r="6.9" stroke="#3a3ae2"/>
<circle cx="1097.9" cy="310.1" r="6.9" stroke="#3a3ae2"/>
<circle cx="1099.5" cy="310.3" r="6.9" stroke="#3a3ae2"/>
<circle cx="1101.1" cy="310.5" r="6.9" stroke="#3a3ae2"/>
<circle cx="1102.7" cy="310.6" r="6.9" stroke="#3a3ae2"/>
<circle cx="1104.3" cy="310.8" r="6.9" stroke="#3a3ae2"/>
<circle cx="1105.9" cy="311.0" r="6.9" stroke="#3a3ae2"/>
<circle cx="1107.4" cy="311.1" r="6.9" stroke="#3a3ae2"/>
<circle cx="1109.0" cy="311.3" r="6.9" stroke="#3a3ae2"/>
<circle cx="1110.6" cy="311.5" r="6.9" stroke="#3a3ae2"/>
<circle cx="1112.2" cy="311.6" r="6.9" stroke="#3a3ae2"/>
<circle cx="1113.8" cy="311.8" r="6.9" stroke="#3a3ae2"/>
<circle cx="1115.4" cy="312.0" r="6.9" stroke="#3a3ae2"/>
<circle cx="1117.0" cy="312.3" r="6.9" stroke="#3a3ae2"/>
</g>
<g clip-path="url(#clipd)">
<polyline points="718.0,11.5 718.5,15.0 719.3,19.9 720.2,25.3 721.0,30.0 721.7,33.3 722.2,36.1 723.0,39.0 724.0,43.0 725.4,48.5 727.1,55.0 728.9,62.0 731.0,68.7 733.3,75.1 735.9,81.6 738.6,88.0 741.2,94.5 743.8,101.1 746.3,107.8 748.9,114.3 751.5,120.3 754.2,125.7 757.0,130.7 759.7,135.4 762.2,140.0 764.5,144.3 766.5,148.4 768.6,152.4 770.9,156.4 773.5,160.5 776.3,164.7 779.1,168.8 781.9,172.8 784.6,176.7 787.4,180.4 790.1,184.1 792.8,188.1 795.5,192.4 798.3,196.8 801.1,201.3 803.8,205.6 806.5,209.6 809.3,213.4 812.0,217.2 814.7,221.0 817.4,224.9 820.1,228.9 822.9,232.8 825.6,236.3 828.3,239.5 831.1,242.4 833.9,245.0 836.6,247.2 839.3,248.8 842.1,249.9 844.8,250.8 847.5,251.6 850.2,252.4 853.0,253.1 855.8,253.7 858.5,254.3 861.2,254.9 864.0,255.4 866.7,256.0 869.4,256.5 871.8,257.0 874.1,257.4 876.7,257.9 880.0,258.6 884.4,259.5 889.7,260.7 895.2,261.9 900.6,263.2 905.7,264.5 910.9,265.9 916.0,267.4 921.2,268.9 926.6,270.5 932.2,272.1 937.5,273.7 941.9,275.1 945.2,276.3 947.7,277.3 949.9,278.4 952.2,279.5 954.8,280.8 957.4,282.1 959.9,283.6 962.5,285.0 965.1,286.5 967.6,288.0 970.2,289.6 972.8,291.0 975.3,292.4 977.9,293.7 980.4,294.9 983.1,296.0 985.7,296.9 988.2,297.8 991.1,298.5 994.7,299.2 999.1,299.9 1004.0,300.5 1009.7,301.1 1016.4,301.8 1024.4,302.6 1033.5,303.5 1043.1,304.4 1052.4,305.4 1061.6,306.5 1071.0,307.6 1080.1,308.9 1088.5,310.2 1096.5,311.8 1104.2,313.7 1110.7,315.3 1115.3,316.5" fill="none" stroke="#000" stroke-width="4.2" stroke-linejoin="round" stroke-linecap="round" />
</g>
<line x1="708" y1="440" x2="708" y2="752.8" stroke="#333" stroke-width="2" />
<line x1="701.5" y1="441" x2="708" y2="441" stroke="#333" stroke-width="2" />
<text x="696.8" y="449" font-size="26" text-anchor="end" font-weight="normal" fill="#111" >30</text>
<line x1="701.5" y1="544.5" x2="708" y2="544.5" stroke="#333" stroke-width="2" />
<text x="696.8" y="552.5" font-size="26" text-anchor="end" font-weight="normal" fill="#111" >20</text>
<line x1="701.5" y1="648" x2="708" y2="648" stroke="#333" stroke-width="2" />
<text x="696.8" y="656" font-size="26" text-anchor="end" font-weight="normal" fill="#111" >10</text>
<line x1="701.5" y1="752" x2="708" y2="752" stroke="#333" stroke-width="2" />
<text x="696.8" y="760" font-size="26" text-anchor="end" font-weight="normal" fill="#111" >0</text>
<line x1="716.5" y1="441" x2="1147" y2="441" stroke="#333" stroke-width="2" />
<line x1="1146" y1="441" x2="1146" y2="752.8" stroke="#555" stroke-width="2" />
<line x1="715.6" y1="768.6" x2="1147" y2="768.6" stroke="#333" stroke-width="2" />
<line x1="716" y1="768.6" x2="716" y2="774.5" stroke="#333" stroke-width="2" />
<text x="716" y="799.5" font-size="26" text-anchor="middle" font-weight="normal" fill="#111" >0</text>
<line x1="853.6" y1="768.6" x2="853.6" y2="774.5" stroke="#333" stroke-width="2" />
<text x="853.6" y="799.5" font-size="26" text-anchor="middle" font-weight="normal" fill="#111" >2</text>
<line x1="991.2" y1="768.6" x2="991.2" y2="774.5" stroke="#333" stroke-width="2" />
<text x="991.2" y="799.5" font-size="26" text-anchor="middle" font-weight="normal" fill="#111" >4</text>
<line x1="1128.8" y1="768.6" x2="1128.8" y2="774.5" stroke="#333" stroke-width="2" />
<text x="1128.8" y="799.5" font-size="26" text-anchor="middle" font-weight="normal" fill="#111" >6</text>
<text x="931" y="839.7" font-size="31" text-anchor="middle" font-weight="normal" fill="#111" >Charge C-rate</text>
<text x="624.8" y="596.7" font-size="31" text-anchor="middle" font-weight="normal" fill="#111" transform="rotate(-90 624.8 596.7)">Voltage Drop (mV)</text>
<text x="722" y="494" font-size="57" text-anchor="start" font-weight="bold" fill="#000" >e</text>
<rect x="718.6" y="729.8" width="22.8" height="22.4" fill="#fa3236"/>
<rect x="739.3" y="713.4" width="22.8" height="22.4" fill="#fa3236"/>
<rect x="773.8" y="686.0" width="22.8" height="22.4" fill="#fa3236"/>
<rect x="842.5" y="632.8" width="22.8" height="22.4" fill="#fa3236"/>
<rect x="911.2" y="582.3" width="22.8" height="22.4" fill="#fa3236"/>
<rect x="979.6" y="533.8" width="22.8" height="22.4" fill="#fa3236"/>
<rect x="1048.2" y="487.8" width="22.8" height="22.4" fill="#fa3236"/>
<rect x="1117.3" y="445.8" width="22.8" height="22.4" fill="#fa3236"/>
<line x1="708" y1="868.5" x2="708" y2="1182" stroke="#333" stroke-width="2" />
<line x1="701.5" y1="869.3" x2="708" y2="869.3" stroke="#333" stroke-width="2" />
<text x="696.8" y="877.3" font-size="26" text-anchor="end" font-weight="normal" fill="#111" >0.20</text>
<line x1="701.5" y1="1025.2" x2="708" y2="1025.2" stroke="#333" stroke-width="2" />
<text x="696.8" y="1033.2" font-size="26" text-anchor="end" font-weight="normal" fill="#111" >0.12</text>
<line x1="701.5" y1="1181" x2="708" y2="1181" stroke="#333" stroke-width="2" />
<text x="696.8" y="1189" font-size="26" text-anchor="end" font-weight="normal" fill="#111" >0.04</text>
<line x1="716.4" y1="869.3" x2="1147" y2="869.3" stroke="#333" stroke-width="2" />
<line x1="1146" y1="869.3" x2="1146" y2="1182" stroke="#555" stroke-width="2" />
<line x1="715.8" y1="1196.4" x2="1147" y2="1196.4" stroke="#333" stroke-width="2" />
<line x1="716" y1="1196.4" x2="716" y2="1203" stroke="#333" stroke-width="2" />
<text x="716" y="1227.9" font-size="26" text-anchor="middle" font-weight="normal" fill="#111" >0.0</text>
<line x1="931" y1="1196.4" x2="931" y2="1203" stroke="#333" stroke-width="2" />
<text x="931" y="1227.9" font-size="26" text-anchor="middle" font-weight="normal" fill="#111" >0.5</text>
<line x1="1146" y1="1196.4" x2="1146" y2="1203" stroke="#333" stroke-width="2" />
<text x="1146" y="1227.9" font-size="26" text-anchor="middle" font-weight="normal" fill="#111" >1.0</text>
<text x="931" y="1269.9" font-size="31" text-anchor="middle" font-weight="normal" fill="#111" >Time (h)</text>
<text x="731" y="1163" font-size="57" text-anchor="start" font-weight="bold" fill="#000" >f</text>
<g transform="translate(625,1118.75) rotate(-90)" fill="#111">
<ellipse cx="0" cy="-7.3" rx="5.5" ry="6.4" fill="none" stroke="#111" stroke-width="1.9"/>
<line x1="0" y1="-21.8" x2="0" y2="6.3" stroke="#111" stroke-width="1.8"/>
<text x="8.3" y="7.8" font-size="20.5">a</text>
<text x="29" y="0" font-size="31">(V vs. Li/Li<tspan font-size="19.6" dy="-13">+</tspan><tspan dy="13">)</tspan></text>
</g>
<g transform="translate(26.8,1108.4) rotate(-90)" fill="#111">
<ellipse cx="0" cy="-7.3" rx="5.5" ry="6.4" fill="none" stroke="#111" stroke-width="1.9"/>
<line x1="0" y1="-21.8" x2="0" y2="6.3" stroke="#111" stroke-width="1.8"/>
<text x="8.3" y="7.8" font-size="20.5">a</text>
<text x="29" y="0" font-size="31">(V vs. Li/Li<tspan font-size="19.6" dy="-13">+</tspan><tspan dy="13">)</tspan></text>
</g>
<line x1="843.4" y1="935.2" x2="909.4" y2="935.2" stroke="#1010e6" stroke-width="4.8" stroke-linecap="round"/>
<line x1="843.4" y1="970.2" x2="909.4" y2="970.2" stroke="#000" stroke-width="4.8" stroke-linecap="round"/>
<text x="916.4" y="944.5" font-size="28.4" text-anchor="start" font-weight="normal" fill="#111" >central RE</text>
<text x="916.4" y="979" font-size="28.4" text-anchor="start" font-weight="normal" fill="#111" >Gr surface</text>
<text x="1008.6" y="1110.3" font-size="30.4" text-anchor="start" font-weight="normal" fill="#111" >correction</text>
<line x1="1000" y1="1120" x2="1000" y2="1078" stroke="#000" stroke-width="2" />
<path d="M996.6,1081 L1000,1069.5 L1003.4,1081 Z" fill="#000"/>
<clipPath id="clipf"><rect x="709" y="869.3" width="436" height="312"/></clipPath><g clip-path="url(#clipf)">
<polyline points="741.2,869.5 741.2,871.5 741.2,873.5 741.2,875.5 741.2,877.5 741.2,879.5 741.2,881.5 741.2,883.5 741.2,885.5 741.2,887.5 742.7,888.8 744.2,890.2 745.7,891.5 747.2,892.8 748.6,894.2 750.1,895.6 751.6,896.9 753.0,898.3 754.4,899.8 755.8,901.2 757.1,902.7 758.5,904.1 759.8,905.6 761.1,907.1 762.4,908.7 763.7,910.2 765.0,911.7 766.2,913.3 767.5,914.9 768.6,916.5 769.8,918.1 770.9,919.7 772.0,921.4 773.1,923.1 774.2,924.8 775.2,926.5 776.2,928.3 777.2,930.0 778.1,931.8 779.0,933.5 780.0,935.3 780.8,937.1 781.7,938.9 782.5,940.8 783.3,942.6 784.1,944.4 784.8,946.3 785.5,948.2 786.2,950.0 786.9,951.9 787.5,953.8 788.2,955.7 788.8,957.6 789.4,959.5 790.1,961.4 790.7,963.3 791.3,965.2 792.0,967.1 792.6,969.0 793.3,970.9 794.0,972.7 794.7,974.6 795.4,976.5 796.1,978.3 796.8,980.2 797.6,982.1 798.3,983.9 799.0,985.8 799.7,987.7 800.5,989.5 801.2,991.4 801.9,993.3 802.7,995.1 803.4,997.0 804.1,998.8 804.9,1000.7 805.6,1002.6 806.3,1004.4 807.0,1006.3 807.8,1008.2 808.5,1010.0 809.2,1011.9 809.9,1013.7 810.7,1015.6 811.4,1017.5 812.1,1019.3 812.9,1021.2 813.6,1023.0 814.3,1024.9 815.1,1026.8 815.8,1028.6 816.6,1030.5 817.3,1032.3 818.1,1034.2 818.8,1036.0 819.6,1037.9 820.3,1039.7 821.1,1041.6 821.8,1043.5 822.6,1045.3 823.3,1047.2 824.1,1049.0 824.9,1050.8 825.7,1052.7 826.6,1054.5 827.5,1056.2 828.4,1058.0 829.4,1059.7 830.5,1061.4 831.6,1063.1 832.8,1064.7 834.0,1066.3 835.4,1067.7 836.8,1069.2 838.3,1070.4 839.9,1071.6 841.7,1072.6 843.4,1073.6 845.2,1074.4 847.1,1075.1 849.0,1075.8 850.9,1076.9 852.8,1077.5 854.7,1077.3 856.6,1078.0 858.4,1079.4 860.3,1080.0 862.2,1080.7 864.0,1081.1 865.9,1082.1 867.7,1082.8 869.6,1083.5 871.5,1083.8 873.3,1084.9 875.2,1085.6 877.0,1086.7 878.8,1087.8 880.6,1088.6 882.5,1089.0 884.3,1089.8 886.1,1090.5 887.9,1091.1 889.7,1091.9 891.5,1093.2 893.3,1093.9 895.1,1094.9 896.9,1096.2 898.7,1096.7 900.5,1097.6 902.3,1098.2 904.1,1098.8 906.0,1099.9 907.8,1100.6 909.6,1101.8 911.4,1103.1 913.3,1103.5 915.1,1103.8 917.0,1105.2 918.9,1105.8 920.7,1106.5 922.6,1107.3 924.5,1107.8 926.4,1108.5 928.3,1108.7 930.2,1110.0 932.1,1110.5 934.1,1110.1 936.1,1111.0 938.0,1111.3 940.0,1111.5 941.9,1112.2 943.7,1112.8 945.6,1114.0 947.5,1114.3 949.3,1115.4 951.2,1115.7 953.0,1116.9 954.9,1117.6 956.8,1117.9 958.6,1118.8 960.3,1120.2 961.9,1121.2 963.5,1122.2 965.0,1123.3 966.4,1124.7 967.9,1126.5 969.3,1127.4 970.8,1129.5 972.2,1130.2 973.7,1132.2 975.2,1133.0 976.6,1135.0 978.1,1136.1 979.6,1137.2 981.1,1138.5 982.7,1139.9 984.3,1141.0 985.9,1142.0 987.5,1143.0 989.2,1144.4 990.9,1145.8 992.7,1146.3 994.6,1146.4 996.6,1147.6 998.5,1147.9 1000.5,1148.4 1002.5,1148.0 1004.5,1148.8 1006.4,1148.4 1008.4,1149.3 1010.4,1149.1 1012.4,1149.3 1014.4,1150.2 1016.4,1149.7 1018.3,1150.3 1020.3,1150.9 1022.3,1150.5 1024.3,1150.7 1026.3,1151.6 1028.3,1151.3 1030.3,1151.8 1032.3,1151.3 1034.3,1151.8 1036.3,1151.8 1038.2,1152.5 1040.2,1152.2 1042.2,1153.3 1044.2,1152.6 1046.2,1153.6 1048.2,1153.1 1050.1,1153.7 1052.1,1154.6 1054.1,1154.3 1056.1,1154.6 1058.0,1155.4 1060.0,1155.4 1062.0,1155.3 1064.0,1156.5 1066.0,1155.9 1067.9,1156.1 1069.9,1156.6 1071.9,1157.1 1073.9,1157.5 1075.9,1157.1 1077.9,1157.6 1079.9,1157.6 1081.8,1158.2 1083.8,1158.8 1085.8,1159.1 1087.8,1159.6 1089.8,1159.7 1091.7,1160.2 1093.7,1160.4 1095.6,1160.5 1097.6,1160.7 1099.6,1161.5 1101.5,1161.6 1103.5,1161.8 1105.4,1162.6 1107.4,1163.5 1109.3,1163.2 1111.3,1164.0 1113.2,1164.5 1115.2,1164.9" fill="none" stroke="#0a0ae0" stroke-width="4.4" stroke-linejoin="round" stroke-linecap="round" />
<polyline points="741.2,869.5 741.4,871.5 741.5,873.5 741.7,875.5 741.9,877.5 742.4,879.3 744.0,880.5 745.5,881.8 747.1,883.1 748.6,884.4 750.1,885.7 751.6,887.0 753.1,888.3 754.5,889.7 756.0,891.1 757.4,892.5 758.8,893.9 760.2,895.3 761.6,896.8 763.0,898.2 764.4,899.6 765.8,901.1 767.1,902.6 768.5,904.1 769.7,905.6 771.0,907.2 772.2,908.8 773.4,910.4 774.5,912.0 775.6,913.7 776.7,915.4 777.7,917.1 778.6,918.9 779.6,920.6 780.5,922.4 781.4,924.2 782.3,926.0 783.1,927.8 783.9,929.7 784.7,931.5 785.4,933.3 786.1,935.2 786.8,937.1 787.5,939.0 788.2,940.9 788.8,942.8 789.4,944.7 790.0,946.6 790.6,948.5 791.2,950.4 791.8,952.3 792.4,954.2 793.0,956.1 793.6,958.0 794.3,959.9 794.9,961.8 795.5,963.7 796.2,965.6 796.8,967.5 797.4,969.4 798.1,971.3 798.7,973.2 799.4,975.1 800.0,977.0 800.7,978.9 801.3,980.7 802.0,982.6 802.6,984.5 803.3,986.4 804.0,988.3 804.6,990.2 805.3,992.1 806.0,993.9 806.7,995.8 807.4,997.7 808.1,999.6 808.8,1001.4 809.5,1003.3 810.3,1005.2 811.0,1007.0 811.8,1008.9 812.5,1010.7 813.3,1012.6 814.0,1014.4 814.8,1016.3 815.6,1018.1 816.3,1020.0 817.1,1021.8 817.9,1023.6 818.7,1025.5 819.4,1027.3 820.2,1029.2 820.9,1031.0 821.7,1032.9 822.4,1034.8 823.1,1036.6 823.9,1038.5 824.6,1040.3 825.4,1042.2 826.2,1044.0 827.1,1045.8 828.1,1047.5 829.1,1049.3 830.2,1050.9 831.3,1052.6 832.6,1054.1 833.9,1055.7 835.3,1057.0 836.8,1058.4 838.4,1059.6 840.0,1060.8 841.8,1061.7 843.5,1062.7 845.4,1063.5 847.2,1064.2 849.1,1064.9 851.0,1065.6 852.9,1066.4 854.8,1067.1 856.7,1068.0 858.5,1068.5 860.4,1069.4 862.2,1069.2 864.1,1070.4 866.0,1071.6 867.8,1072.1 869.7,1073.1 871.5,1073.1 873.4,1074.2 875.2,1074.7 877.1,1075.7 878.9,1076.5 880.8,1076.7 882.7,1077.6 884.5,1078.4 886.4,1079.8 888.2,1080.4 890.1,1080.5 891.9,1081.9 893.8,1082.0 895.6,1083.3 897.5,1083.6 899.3,1084.3 901.1,1086.0 902.9,1086.1 904.8,1086.9 906.6,1088.5 908.4,1089.2 910.3,1089.4 912.1,1090.9 913.9,1091.3 915.8,1092.2 917.6,1092.4 919.5,1093.9 921.4,1094.4 923.2,1095.4 925.1,1096.1 926.9,1096.2 928.8,1096.9 930.7,1097.4 932.6,1098.0 934.5,1098.5 936.5,1099.3 938.4,1100.1 940.3,1100.2 942.1,1101.7 943.9,1102.2 945.7,1103.0 947.5,1104.4 949.3,1105.0 951.1,1105.7 952.9,1106.7 954.7,1107.7 956.6,1107.9 958.3,1109.7 960.0,1109.8 961.7,1111.7 963.2,1113.0 964.7,1113.5 966.2,1115.7 967.6,1116.6 969.1,1118.2 970.5,1119.0 972.0,1120.4 973.4,1121.9 974.9,1124.1 976.3,1124.7 977.8,1126.6 979.3,1128.1 980.9,1129.4 982.5,1130.0 984.1,1131.1 985.8,1132.4 987.5,1133.7 989.3,1134.0 991.1,1135.4 992.9,1136.2 994.8,1136.9 996.8,1136.5 998.7,1137.8 1000.7,1137.3 1002.7,1137.9 1004.7,1138.4 1006.7,1139.0 1008.6,1138.7 1010.6,1139.6 1012.6,1139.4 1014.6,1139.4 1016.6,1139.7 1018.6,1139.8 1020.6,1139.9 1022.5,1140.2 1024.5,1140.9 1026.5,1141.3 1028.5,1140.7 1030.5,1140.7 1032.5,1141.8 1034.5,1141.4 1036.5,1141.4 1038.5,1141.4 1040.5,1142.0 1042.5,1142.4 1044.5,1142.2 1046.5,1142.4 1048.4,1142.3 1050.4,1143.5 1052.4,1142.9 1054.4,1143.7 1056.3,1144.4 1058.3,1144.0 1060.3,1144.9 1062.3,1145.4 1064.2,1145.4 1066.2,1145.8 1068.2,1145.4 1070.2,1146.0 1072.2,1146.0 1074.1,1147.0 1076.1,1146.8 1078.1,1147.2 1080.1,1148.1 1082.1,1148.2 1084.0,1148.7 1086.0,1148.5 1088.0,1148.8 1089.9,1149.4 1091.9,1149.5 1093.9,1149.7 1095.8,1150.2 1097.8,1150.4 1099.7,1151.0 1101.7,1152.0 1103.7,1152.4 1105.6,1152.5 1107.6,1152.9 1109.5,1153.2 1111.5,1153.8 1113.4,1154.2 1115.4,1154.7" fill="none" stroke="#000" stroke-width="4.4" stroke-linejoin="round" stroke-linecap="round" />
</g>
</svg>
</body></html>
